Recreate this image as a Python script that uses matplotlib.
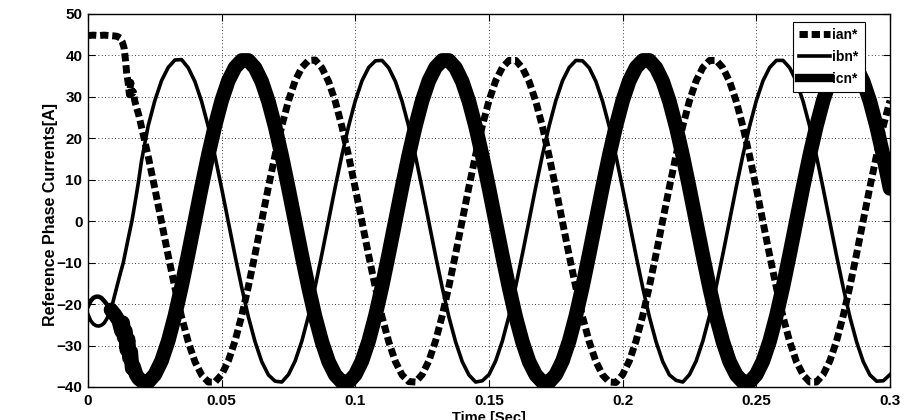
import numpy as np
import matplotlib
matplotlib.use("Agg")
import matplotlib.pyplot as plt
from matplotlib.lines import Line2D
from matplotlib import font_manager
from matplotlib.font_manager import FontProperties

# ---------------- data ----------------
x_ticks = [0, 0.05, 0.1, 0.15, 0.2, 0.25, 0.3]
x_tick_labels = ["0", "0.05", "0.1", "0.15", "0.2", "0.25", "0.3"]
y_ticks = [-40, -30, -20, -10, 0, 10, 20, 30, 40, 50]
series_names = ["ian*", "ibn*", "icn*"]

# steady part: samples every 2.5 ms from 0.02 s to 0.3 s
t_main_first, t_main_last, n_main = 0.02, 0.3, 113

# start-up part (t < 0.02 s), read point by point
ian_t0 = [0.0, 0.002, 0.004, 0.006, 0.008, 0.010, 0.011, 0.012, 0.0128, 0.0135,
          0.014, 0.0145, 0.015, 0.0155, 0.016, 0.0165, 0.017, 0.0175, 0.018, 0.019]
ian_v0 = [44.8, 44.9, 44.8, 44.9, 44.8, 44.7, 44.6, 44.2, 43.3, 41.8,
          39.0, 35.5, 33.5, 30.5, 33.5, 30.8, 31.2, 29.0, 27.8, 25.6]

ibn_t0 = [0.0, 0.001, 0.002, 0.003, 0.004, 0.005, 0.006, 0.007, 0.0086, 0.010,
          0.012, 0.0132, 0.015, 0.0165, 0.018, 0.019]
ibn_v0 = [-22.5, -24.0, -24.8, -25.2, -25.3, -25.1, -24.6, -23.6, -21.4, -17.8,
          -12.8, -10.0, -4.3, 0.3, 6.0, 10.0]

icn_t0 = [0.0, 0.001, 0.002, 0.003, 0.004, 0.005, 0.006, 0.007, 0.0086]
icn_v0 = [-20.5, -19.2, -18.5, -18.2, -18.2, -18.5, -19.2, -20.0, -21.4]
icn_t1 = [0.0086, 0.010, 0.0115, 0.0125, 0.013, 0.0135, 0.014, 0.0145, 0.015,
          0.0155, 0.016, 0.0165, 0.017, 0.018, 0.019]
icn_v1 = [-21.4, -22.5, -24.0, -26.5, -24.5, -28.0, -26.5, -31.0, -28.5,
          -33.0, -31.5, -35.5, -35.0, -37.0, -38.0]

ian_main = [
    22.8, 15.7, 7.9, -0.2, -8.3, -16.0, -23.1, -29.1, -33.9, -37.1,
    -38.8, -38.8, -37.0, -33.7, -28.9, -22.8, -15.7, -7.9, 0.2, 8.3,
    16.0, 23.0, 29.1, 33.9, 37.1, 38.8, 38.9, 37.0, 33.7, 28.9,
    22.8, 15.7, 7.9, -0.2, -8.3, -16.0, -23.1, -29.1, -33.9, -37.1,
    -38.7, -38.8, -37.0, -33.7, -28.9, -22.8, -15.7, -7.9, 0.2, 8.3,
    16.0, 23.0, 29.1, 33.9, 37.1, 38.8, 38.8, 37.0, 33.7, 28.9,
    22.8, 15.7, 7.9, -0.2, -8.3, -16.0, -23.1, -29.1, -33.9, -37.1,
    -38.8, -38.9, -37.0, -33.7, -28.9, -22.8, -15.7, -7.9, 0.2, 8.3,
    16.0, 23.0, 29.1, 33.9, 37.1, 38.8, 38.8, 37.0, 33.7, 28.9,
    22.8, 15.7, 7.9, -0.2, -8.3, -16.0, -23.1, -29.1, -33.9, -37.1,
    -38.8, -38.8, -37.0, -33.7, -28.9, -22.8, -15.7, -7.9, 0.2, 8.3,
    16.0, 23.0, 29.1,
]

ibn_main = [
    14.5, 23.0, 29.1, 33.9, 37.1, 38.9, 39.0, 37.0, 33.7, 28.9,
    22.8, 15.7, 7.9, -0.2, -8.3, -16.0, -23.1, -29.1, -33.9, -37.1,
    -38.6, -38.8, -37.0, -33.7, -28.9, -22.8, -15.7, -7.9, 0.2, 8.3,
    16.0, 23.0, 29.1, 33.9, 37.1, 38.7, 38.8, 37.0, 33.7, 28.9,
    22.8, 15.7, 7.9, -0.2, -8.3, -16.0, -23.1, -29.1, -33.9, -37.1,
    -38.8, -38.5, -37.0, -33.7, -28.9, -22.8, -15.7, -7.9, 0.2, 8.3,
    16.0, 23.0, 29.1, 33.9, 37.1, 38.8, 38.7, 37.0, 33.7, 28.9,
    22.8, 15.7, 7.9, -0.2, -8.3, -16.0, -23.1, -29.1, -33.9, -37.1,
    -38.4, -38.8, -37.0, -33.7, -28.9, -22.8, -15.7, -7.9, 0.2, 8.3,
    16.0, 23.0, 29.1, 33.9, 37.1, 38.8, 38.8, 37.0, 33.7, 28.9,
    22.8, 15.7, 7.9, -0.2, -8.3, -16.0, -23.1, -29.1, -33.9, -37.1,
    -38.6, -38.5, -37.0,
]

icn_main = [
    -38.5, -38.8, -37.0, -33.7, -28.9, -22.8, -15.7, -7.9, 0.2, 8.3,
    16.0, 23.0, 29.1, 33.9, 37.1, 38.8, 38.8, 37.0, 33.7, 28.9,
    22.8, 15.7, 7.9, -0.2, -8.3, -16.0, -23.1, -29.1, -33.9, -37.1,
    -38.8, -38.8, -37.0, -33.7, -28.9, -22.8, -15.7, -7.9, 0.2, 8.3,
    16.0, 23.0, 29.1, 33.9, 37.1, 38.8, 38.8, 37.0, 33.7, 28.9,
    22.8, 15.7, 7.9, -0.2, -8.3, -16.0, -23.1, -29.1, -33.9, -37.1,
    -38.8, -38.8, -37.0, -33.7, -28.9, -22.8, -15.7, -7.9, 0.2, 8.3,
    16.0, 23.0, 29.1, 33.9, 37.1, 38.8, 38.8, 37.0, 33.7, 28.9,
    22.8, 15.7, 7.9, -0.2, -8.3, -16.0, -23.1, -29.1, -33.9, -37.1,
    -38.8, -38.8, -37.0, -33.7, -28.9, -22.8, -15.7, -7.9, 0.2, 8.3,
    16.0, 23.0, 29.1, 33.9, 37.1, 38.8, 38.8, 37.0, 33.7, 28.9,
    22.8, 15.7, 7.9,
]

# ---------------- styling ----------------
def pick_font(cands):
    for f in cands:
        try:
            font_manager.findfont(FontProperties(family=f), fallback_to_default=False)
            return f
        except Exception:
            pass
    return "DejaVu Sans"

label_font = pick_font(["Liberation Sans", "Arial", "DejaVu Sans"])
tick_font = pick_font(["Liberation Sans Narrow", "Liberation Sans", "DejaVu Sans"])
tick_size = 12 if tick_font == "Liberation Sans Narrow" else 11

W, H = 912, 420
fig = plt.figure(figsize=(W / 100, H / 100), dpi=100)
ax_l, ax_r, ax_t, ax_b = 88, 890, 14, 387
ax = fig.add_axes([ax_l / W, 1 - ax_b / H, (ax_r - ax_l) / W, (ax_b - ax_t) / H])

t_main = np.linspace(t_main_first, t_main_last, n_main)

ian_t = list(ian_t0) + list(t_main)
ian_v = list(ian_v0) + list(ian_main)
ibn_t = list(ibn_t0) + list(t_main)
ibn_v = list(ibn_v0) + list(ibn_main)
icn_t = list(icn_t1) + list(t_main)
icn_v = list(icn_v1) + list(icn_main)

lw_ian, dash_ian = 5.0, (1.2, 0.55)
lw_ibn = 2.6
lw_icn = 10.5

ax.plot(ian_t, ian_v, color="k", lw=lw_ian, dashes=dash_ian, solid_capstyle="butt")
ax.plot(ibn_t, ibn_v, color="k", lw=lw_ibn)
ax.plot(icn_t0, icn_v0, color="k", lw=3.2)
ax.plot(icn_t, icn_v, color="k", lw=lw_icn, solid_joinstyle="round", solid_capstyle="round")

ax.set_xlim(0, 0.3)
ax.set_ylim(-40, 50)
ax.set_xticks(x_ticks)
ax.set_xticklabels(x_tick_labels)
ax.set_yticks(y_ticks)
ax.grid(True, color="k", linestyle=(0, (1, 3)), linewidth=0.6)
ax.tick_params(direction="in", length=5, width=0.8, top=True, right=True)
ax.tick_params(axis="y", pad=4)
ax.tick_params(axis="x", pad=5)
for lab in ax.get_xticklabels() + ax.get_yticklabels():
    lab.set_fontfamily(tick_font)
    lab.set_fontweight("bold")
    lab.set_fontsize(tick_size)
for s in ax.spines.values():
    s.set_linewidth(1.0)
    s.set_color("k")

ax.set_xlabel("Time [Sec]", fontfamily=label_font, fontweight="bold", fontsize=10.5)
ax.xaxis.set_label_coords(0.5, (ax_b - 411) / (ax_b - ax_t))
ax.set_ylabel("Reference Phase Currents[A]", fontfamily=label_font, fontweight="bold", fontsize=11.5)
ax.yaxis.set_label_coords((58 - ax_l) / (ax_r - ax_l), (ax_b - 215) / (ax_b - ax_t))

handles = [
    Line2D([], [], color="k", lw=lw_ian, dashes=dash_ian),
    Line2D([], [], color="k", lw=lw_ibn),
    Line2D([], [], color="k", lw=6.0),
]
leg = ax.legend(handles, series_names, loc="upper right",
                bbox_to_anchor=((865 - ax_l) / (ax_r - ax_l), (ax_b - 22) / (ax_b - ax_t)),
                borderaxespad=0, fancybox=False, edgecolor="k", framealpha=1,
                handlelength=2.2, handletextpad=0.2, labelspacing=0.55, borderpad=0.45,
                prop=FontProperties(family=label_font, weight="bold", size=10))
leg.get_frame().set_linewidth(0.8)

fig.savefig("out.png", dpi=100)
